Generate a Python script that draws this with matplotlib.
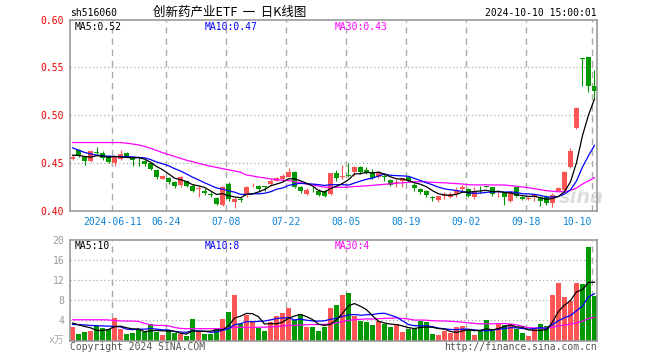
import numpy as np
import pandas as pd
import matplotlib
matplotlib.use("Agg")
import matplotlib.pyplot as plt

plt.rcParams['font.family'] = ['DejaVu Sans Mono', 'Noto Sans CJK SC']

# daily candles (2024-05-30 .. 2024-10-10)
opens = [0.4545, 0.4639, 0.4566, 0.4518, 0.4611, 0.4601, 0.4570, 0.4503, 0.4542, 0.4604,
         0.4552, 0.4524, 0.4518, 0.4497, 0.4427, 0.4337, 0.4344, 0.4305, 0.4274, 0.4309,
         0.4264, 0.4226, 0.4212, 0.4177, 0.4135, 0.4066, 0.4281, 0.4097, 0.4125, 0.4170,
         0.4268, 0.4264, 0.4257, 0.4281, 0.4316, 0.4333, 0.4357, 0.4410, 0.4253, 0.4177,
         0.4233, 0.4212, 0.4212, 0.4177, 0.4393, 0.4358, 0.4370, 0.4410, 0.4462, 0.4427,
         0.4396, 0.4351, 0.4368, 0.4323, 0.4295, 0.4316, 0.4351, 0.4274, 0.4229, 0.4205,
         0.4146, 0.4118, 0.4156, 0.4149, 0.4177, 0.4229, 0.4229, 0.4142, 0.4222, 0.4257,
         0.4247, 0.4174, 0.4184, 0.4108, 0.4247, 0.4149, 0.4130, 0.4156, 0.4149, 0.4142,
         0.4083, 0.4212, 0.4222, 0.4458, 0.4872, 0.5594, 0.5607, 0.5306]
highs = [0.4586, 0.4646, 0.4576, 0.4628, 0.4670, 0.4622, 0.4580, 0.4570, 0.4635, 0.4611,
         0.4559, 0.4552, 0.4531, 0.4503, 0.4438, 0.4375, 0.4351, 0.4316, 0.4365, 0.4316,
         0.4281, 0.4264, 0.4236, 0.4195, 0.4149, 0.4264, 0.4299, 0.4142, 0.4142, 0.4264,
         0.4292, 0.4271, 0.4264, 0.4333, 0.4351, 0.4385, 0.4445, 0.4420, 0.4264, 0.4236,
         0.4257, 0.4229, 0.4222, 0.4400, 0.4427, 0.4482, 0.4497, 0.4465, 0.4465, 0.4455,
         0.4438, 0.4414, 0.4385, 0.4333, 0.4333, 0.4348, 0.4368, 0.4288, 0.4240, 0.4219,
         0.4160, 0.4160, 0.4195, 0.4201, 0.4247, 0.4274, 0.4240, 0.4247, 0.4264, 0.4264,
         0.4253, 0.4219, 0.4195, 0.4205, 0.4253, 0.4160, 0.4142, 0.4177, 0.4160, 0.4170,
         0.4184, 0.4247, 0.4414, 0.4656, 0.5083, 0.5596, 0.5607, 0.5472]
lows = [0.4531, 0.4566, 0.4482, 0.4510, 0.4587, 0.4531, 0.4503, 0.4469, 0.4531, 0.4570,
        0.4472, 0.4472, 0.4472, 0.4427, 0.4333, 0.4333, 0.4281, 0.4240, 0.4253, 0.4247,
        0.4195, 0.4146, 0.4167, 0.4142, 0.4063, 0.4055, 0.4108, 0.4031, 0.4090, 0.4142,
        0.4247, 0.4195, 0.4212, 0.4264, 0.4309, 0.4316, 0.4351, 0.4240, 0.4184, 0.4167,
        0.4195, 0.4160, 0.4149, 0.4170, 0.4316, 0.4333, 0.4351, 0.4368, 0.4385, 0.4385,
        0.4333, 0.4344, 0.4309, 0.4264, 0.4247, 0.4253, 0.4299, 0.4212, 0.4177, 0.4149,
        0.4108, 0.4097, 0.4125, 0.4132, 0.4149, 0.4212, 0.4149, 0.4125, 0.4184, 0.4247,
        0.4160, 0.4149, 0.4063, 0.4097, 0.4142, 0.4118, 0.4115, 0.4108, 0.4055, 0.4063,
        0.4045, 0.4205, 0.4212, 0.4448, 0.4854, 0.5306, 0.5243, 0.5184]
closes = [0.4566, 0.4580, 0.4518, 0.4622, 0.4601, 0.4552, 0.4510, 0.4566, 0.4594, 0.4576,
          0.4531, 0.4518, 0.4490, 0.4434, 0.4351, 0.4368, 0.4299, 0.4264, 0.4351, 0.4257,
          0.4205, 0.4236, 0.4184, 0.4167, 0.4073, 0.4247, 0.4125, 0.4125, 0.4118, 0.4253,
          0.4271, 0.4229, 0.4247, 0.4316, 0.4344, 0.4368, 0.4403, 0.4253, 0.4205, 0.4222,
          0.4226, 0.4170, 0.4160, 0.4396, 0.4344, 0.4368, 0.4365, 0.4462, 0.4410, 0.4410,
          0.4344, 0.4403, 0.4355, 0.4274, 0.4302, 0.4344, 0.4316, 0.4240, 0.4195, 0.4170,
          0.4139, 0.4156, 0.4177, 0.4177, 0.4219, 0.4253, 0.4160, 0.4205, 0.4215, 0.4250,
          0.4177, 0.4180, 0.4142, 0.4195, 0.4160, 0.4125, 0.4135, 0.4160, 0.4108, 0.4083,
          0.4170, 0.4240, 0.4405, 0.4625, 0.5080, 0.5590, 0.5306, 0.5253]
# volume in 万
volumes = [2.67, 1.2, 1.6, 1.8, 2.8, 2.5, 2.27, 4.4, 2.33, 1.2,
           1.4, 2.13, 1.67, 3.2, 1.6, 1.0, 2.0, 1.4, 1.2, 0.8,
           4.2, 1.67, 1.27, 1.27, 2.2, 4.2, 5.6, 9.0, 3.2, 5.0,
           3.87, 2.47, 1.87, 3.6, 4.8, 5.47, 6.47, 4.0, 5.2, 2.6,
           2.6, 1.87, 2.67, 6.47, 7.0, 9.0, 9.47, 4.8, 3.8, 3.6,
           3.0, 3.87, 3.2, 2.6, 3.2, 1.6, 2.2, 2.27, 3.8, 3.6,
           1.2, 1.0, 1.8, 1.4, 2.6, 2.8, 2.0, 1.0, 1.8, 4.0,
           1.8, 3.33, 3.0, 3.2, 2.2, 1.4, 0.8, 2.47, 3.2, 2.8,
           9.0, 11.47, 8.67, 7.8, 11.47, 11.2, 18.67, 8.87]

# moving-average values before a full window exists
ma5_head = [0.4583, 0.4580, 0.4570, 0.4562]
ma10_head = [0.4660, 0.4635, 0.4612, 0.4597, 0.4584, 0.4577, 0.4572, 0.4569, 0.4568]
ma30_head = [0.4715, 0.4715, 0.4715, 0.4715, 0.4715, 0.4715, 0.4715, 0.4715, 0.4715, 0.4708,
             0.4700, 0.4690, 0.4675, 0.4655, 0.4632, 0.4610, 0.4590, 0.4570, 0.4550, 0.4530,
             0.4515, 0.4498, 0.4482, 0.4468, 0.4455, 0.4443, 0.4430, 0.4418, 0.4405]
vol_ma5_head = [3.47, 3.13, 2.8, 2.53]
vol_ma10_head = [3.2, 3.15, 3.1, 3.0, 2.95, 2.9, 2.85, 2.8, 2.7]
vol_ma30_head = [4.13, 4.13, 4.13, 4.13, 4.13, 4.13, 4.1, 3.95, 3.9, 3.87,
                 3.87, 3.8, 3.4, 3.1, 3.0, 3.0, 2.9, 2.6, 2.4, 2.35,
                 2.35, 2.35, 2.35, 2.35, 2.35, 2.35, 2.45, 2.6, 2.65]

holidays = ['2024-06-10', '2024-09-16', '2024-09-17', '2024-10-01', '2024-10-02',
            '2024-10-03', '2024-10-04', '2024-10-07']
tick_dates = ['2024-06-11', '2024-06-24', '2024-07-08', '2024-07-22', '2024-08-05',
              '2024-08-19', '2024-09-02', '2024-09-18', '2024-10-10']
tick_labels = ['2024-06-11', '06-24', '07-08', '07-22', '08-05', '08-19', '09-02', '09-18', '10-10']

dates = pd.bdate_range('2024-05-30', '2024-10-10')
dates = dates[~dates.isin(pd.to_datetime(holidays))]
df = pd.DataFrame({'open': opens, 'high': highs, 'low': lows, 'close': closes,
                   'volume': volumes}, index=dates)


def moving_avg(values, n, head):
    ma = pd.Series(values).rolling(n).mean().to_numpy()
    ma[:n - 1] = head
    return ma


ma5 = moving_avg(df['close'], 5, ma5_head)
ma10 = moving_avg(df['close'], 10, ma10_head)
ma30 = moving_avg(df['close'], 30, ma30_head)
vma5 = moving_avg(df['volume'], 5, vol_ma5_head)
vma10 = moving_avg(df['volume'], 10, vol_ma10_head)
vma30 = moving_avg(df['volume'], 30, vol_ma30_head)

RED, GREEN = '#ff5555', '#009900'
GRID = '#aaaaaa'
x = np.arange(len(df))
up = df['close'].values >= df['open'].values
colors = np.where(up, RED, GREEN)
tick_idx = np.array([df.index.get_loc(pd.Timestamp(d)) for d in tick_dates]) - 0.35

W, H = 660, 360
fig = plt.figure(figsize=(W / 100, H / 100), dpi=100)


def px_axes(x0, y0, x1, y1):
    return fig.add_axes([x0 / W, 1 - y1 / H, (x1 - x0) / W, (y1 - y0) / H])


def ftext(xp, yp, s, **kw):
    fig.text(xp / W, 1 - yp / H, s, va='center', **kw)


ax = px_axes(70, 19.5, 597, 211)
axv = px_axes(70, 240, 597, 340.5)

# candles
body_bot = np.minimum(df['open'], df['close'])
body_h = np.maximum(np.abs(df['close'] - df['open']), 0.0007)
ax.vlines(x, df['low'], df['high'], colors=colors, lw=0.8, zorder=2)
ax.bar(x, body_h, bottom=body_bot, width=0.75, color=colors, linewidth=0, zorder=2)
ax.plot(x, ma30, color='#ff00ff', lw=0.9, zorder=3)
ax.plot(x, ma10, color='#0000ff', lw=0.9, zorder=3)
ax.plot(x, ma5, color='black', lw=0.9, zorder=3)

# volume
axv.bar(x, df['volume'], width=0.82, color=colors, linewidth=0, zorder=2)
axv.plot(x, vma30, color='#ff00ff', lw=0.9, zorder=3)
axv.plot(x, vma10, color='#0000ff', lw=0.9, zorder=3)
axv.plot(x, vma5, color='black', lw=0.9, zorder=3)

for a in (ax, axv):
    a.set_xlim(-0.42, 87.42)
    for t in tick_idx:
        a.axvline(t, color=GRID, lw=1, ls=(0, (4.5, 3.5)), zorder=1)
    for s in a.spines.values():
        s.set_color('#999999')
        s.set_linewidth(1.2)
    a.tick_params(length=0, labelsize=7)

ax.set_ylim(0.40, 0.60)
for lvl in [0.45, 0.50, 0.55]:
    ax.axhline(lvl, color=GRID, lw=0.9, ls=(0, (1, 2)), zorder=1)
ax.set_yticks([0.40, 0.45, 0.50, 0.55, 0.60])
ax.set_yticklabels(['%.2f' % v for v in [0.40, 0.45, 0.50, 0.55, 0.60]], color='#ee0000')
ax.set_xticks(tick_idx)
ax.set_xticklabels(tick_labels, color='#0a84d8')
ax.get_xticklabels()[-1].set_horizontalalignment('right')
ax.tick_params(axis='y', pad=4.5)
ax.tick_params(axis='x', pad=4)

axv.set_ylim(0, 20)
for lvl in [4, 8, 12, 16]:
    axv.axhline(lvl, color=GRID, lw=0.9, ls=(0, (1, 2)), zorder=1)
axv.set_yticks([4, 8, 12, 16, 20])
axv.set_yticklabels(['4', '8', '12', '16', '20'], color='#999999')
axv.set_xticks([])
axv.tick_params(axis='y', pad=4)

# watermark
ax.text(581 / W, 1 - 197 / H, 'sina', transform=fig.transFigure, fontsize=14,
        fontstyle='italic', fontweight='bold', family='DejaVu Sans', color='#dddddd',
        ha='center', va='center', zorder=1.5)

# header and labels
ftext(70, 13, 'sh516060', fontsize=7)
ftext(230, 12.5, '创新药产业ETF  一  日K线图', fontsize=9, ha='center',
      family=['Noto Sans CJK SC', 'DejaVu Sans'])
ftext(597, 13, '2024-10-10 15:00:01', fontsize=7, ha='right')
ftext(75, 26.5, 'MA5:0.52', fontsize=7, color='black')
ftext(205, 26.5, 'MA10:0.47', fontsize=7, color='#0000ff')
ftext(335, 26.5, 'MA30:0.43', fontsize=7, color='#ff00ff')
ftext(75, 246, 'MA5:10', fontsize=7, color='black')
ftext(205, 246, 'MA10:8', fontsize=7, color='#0000ff')
ftext(335, 246, 'MA30:4', fontsize=7, color='#ff00ff')
ftext(64, 340, 'x万', fontsize=7, ha='right', color='#aaaaaa')
ftext(70, 347, 'Copyright 2024 SINA.COM', fontsize=7, color='#555555')
ftext(597, 347, 'http://finance.sina.com.cn', fontsize=7, ha='right', color='#555555')

fig.savefig('out.png', dpi=100)
